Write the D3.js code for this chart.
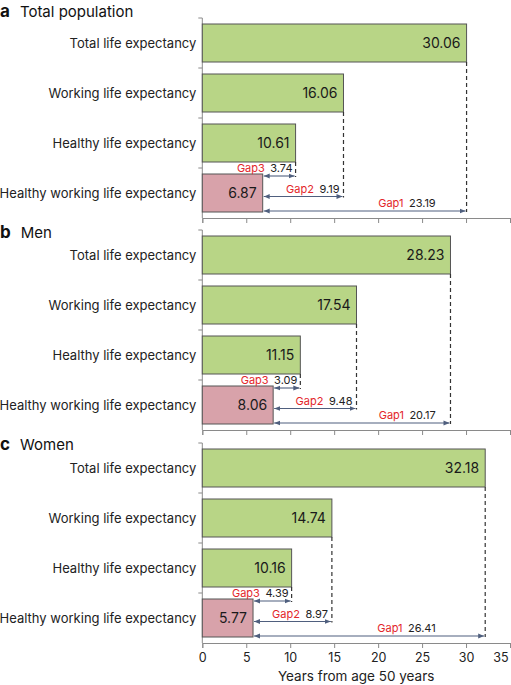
<!DOCTYPE html>
<html>
<head>
<meta charset="utf-8">
<script src="https://cdn.jsdelivr.net/npm/d3@7"></script>
<style>
  body { margin: 0; background: #fff; }
  svg { display: block; font-family: "Inter", "Roboto", sans-serif; }
</style>
</head>
<body>
<div id="chart"></div>
<script>
// values (years from age 50)
const categories = ["Total life expectancy", "Working life expectancy",
  "Healthy life expectancy", "Healthy working life expectancy"];
const panelLetters = ["a", "b", "c"];
const panelTitles = ["Total population", "Men", "Women"];
const totalLE = [30.06, 28.23, 32.18];
const workingLE = [16.06, 17.54, 14.74];
const healthyLE = [10.61, 11.15, 10.16];
const healthyWorkingLE = [6.87, 8.06, 5.77];
const gap1 = [23.19, 20.17, 26.41];
const gap2 = [9.19, 9.48, 8.97];
const gap3 = [3.74, 3.09, 4.39];
const xTicks = [0, 5, 10, 15, 20, 25, 30, 35];

var width = 511, height = 685;
var panelTop = [18, 230, 443],
    titleY = [17, 238, 450],
    panelH = 200;

var svg = d3.select("#chart").append("svg")
    .attr("width", width)
    .attr("height", height);

// arrow heads
var defs = svg.append("defs");
["start", "end"].forEach(function(k) {
  defs.append("marker")
      .attr("id", "ah-" + k)
      .attr("viewBox", "0 0 10 10")
      .attr("refX", k == "end" ? 10 : 0).attr("refY", 5)
      .attr("markerWidth", 6).attr("markerHeight", 6)
      .attr("markerUnits", "userSpaceOnUse")
      .attr("orient", "auto")
    .append("path")
      .attr("d", k == "end" ? "M0,1L10,5L0,9Z" : "M10,1L0,5L10,9Z")
      .attr("fill", "#4f5f7e");
});

var x = d3.scaleLinear().domain([0, 35]).range([202.3, 510]);

panelTitles.forEach(function(title, p) {
  var vals = [totalLE[p], workingLE[p], healthyLE[p], healthyWorkingLE[p]];
  var top = panelTop[p];
  var y = d3.scaleBand().domain(categories)
      .range([top, top + panelH])
      .paddingInner(0.24).paddingOuter(0.12);
  var g = svg.append("g");

  // panel title
  var t = g.append("text").attr("x", 0).attr("y", titleY[p])
      .attr("font-size", 15).attr("fill", "#111");
  t.append("tspan").attr("font-weight", "bold").attr("font-size", 17).text(panelLetters[p]);
  t.append("tspan").attr("dx", 10).text(title);

  // left axis with ticks at the band boundaries
  g.append("line").attr("x1", x(0)).attr("x2", x(0))
      .attr("y1", top).attr("y2", top + panelH)
      .attr("stroke", "#8a8a8a");
  g.selectAll(".ltick").data(categories).enter().append("line")
      .attr("x1", x(0) - 4).attr("x2", x(0))
      .attr("y1", d => y(d) - y.step() * 0.12)
      .attr("y2", d => y(d) - y.step() * 0.12)
      .attr("stroke", "#8a8a8a");

  // category labels
  g.selectAll(".cat").data(categories).enter().append("text")
      .attr("x", x(0) - 6)
      .attr("y", d => y(d) + y.bandwidth() / 2 + 4.5)
      .attr("text-anchor", "end")
      .attr("font-size", 13).attr("fill", "#222")
      .text(d => d);

  // bars
  g.selectAll(".bar").data(vals).enter().append("rect")
      .attr("x", x(0))
      .attr("y", (d, i) => y(categories[i]))
      .attr("width", d => x(d) - x(0))
      .attr("height", y.bandwidth())
      .attr("fill", (d, i) => i == 3 ? "#d8a2aa" : "#b8d586")
      .attr("stroke", "#555").attr("stroke-width", 1);

  g.selectAll(".val").data(vals).enter().append("text")
      .attr("x", d => x(d) - 6)
      .attr("y", (d, i) => y(categories[i]) + y.bandwidth() / 2 + 5)
      .attr("text-anchor", "end")
      .attr("font-size", 14).attr("fill", "#1a1a1a")
      .text(d => d.toFixed(2));

  // gaps: arrow from healthy working LE to each of the other bars
  var hw = healthyWorkingLE[p];
  var y0 = y(categories[3]), y1 = y0 + y.bandwidth();
  var gaps = [
    {name: "Gap3", v: gap3[p], end: healthyLE[p], from: 2, ay: y0 + 2, lx: x(healthyLE[p]) - 3},
    {name: "Gap2", v: gap2[p], end: workingLE[p], from: 1, ay: y0 + 22.5, lx: x(workingLE[p]) - 4},
    {name: "Gap1", v: gap1[p], end: totalLE[p], from: 0, ay: y1 - 1, lx: x(26.55)}
  ];

  gaps.forEach(function(gp) {
    // dashed drop line from the end of the bar
    g.append("line")
        .attr("x1", x(gp.end)).attr("x2", x(gp.end))
        .attr("y1", y(categories[gp.from]) + y.bandwidth())
        .attr("y2", gp.ay + 1)
        .attr("stroke", "#333").attr("stroke-width", 1.2)
        .attr("stroke-dasharray", "4,3");
    g.append("line")
        .attr("x1", x(hw) + 1).attr("x2", x(gp.end) - 1)
        .attr("y1", gp.ay).attr("y2", gp.ay)
        .attr("stroke", "#4f5f7e").attr("stroke-width", 1.1)
        .attr("marker-start", "url(#ah-start)")
        .attr("marker-end", "url(#ah-end)");
    var lab = g.append("text")
        .attr("x", gp.lx).attr("y", gp.ay - 4)
        .attr("text-anchor", "end")
        .attr("font-size", 11);
    lab.append("tspan").attr("fill", "#e3262b").text(gp.name);
    lab.append("tspan").attr("fill", "#222").text("\u2002" + gp.v.toFixed(2));
  });

  // bottom axis
  var xa = g.append("g")
      .attr("transform", "translate(0," + (top + panelH) + ")")
      .call(d3.axisBottom(x).tickValues(xTicks).tickSizeOuter(0).tickSize(5)
        .tickFormat(p == 2 ? d3.format("d") : ""));
  xa.select(".domain").attr("stroke", "#8a8a8a");
  xa.selectAll(".tick line").attr("stroke", "#8a8a8a");
  xa.selectAll(".tick text").attr("font-size", 12.5).attr("fill", "#222")
      .attr("font-family", "Inter, Roboto, sans-serif").attr("dy", "0.85em");
  // last label would run off the right edge
  xa.selectAll(".tick text").filter(d => d == 35)
      .attr("text-anchor", "end").attr("dx", -2);

  if (p == 2) {
    g.append("text")
        .attr("x", (x(0) + x(35)) / 2).attr("y", 681)
        .attr("text-anchor", "middle")
        .attr("font-size", 13.5).attr("fill", "#222")
        .text("Years from age 50 years");
  }
});
</script>
</body>
</html>
